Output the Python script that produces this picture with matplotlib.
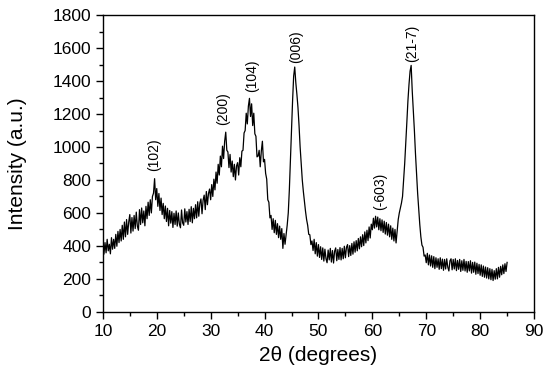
import numpy as np
import matplotlib
matplotlib.use("Agg")
import matplotlib.pyplot as plt
from matplotlib.ticker import MultipleLocator

plt.rcParams['font.family'] = ['Liberation Sans', 'DejaVu Sans']

# XRD pattern, sampled every 0.2 degrees from 10 to 85 (2-theta)
intensity = [
    455, 350, 420, 358, 440, 370, 410, 352, 450, 380,
    440, 385, 470, 398, 488, 420, 500, 430, 525, 440,
    545, 455, 560, 470, 545, 590, 478, 572, 490, 585,
    505, 605, 520, 495, 620, 530, 630, 540, 612, 522,
    640, 565, 665, 585, 680, 600, 700, 720, 808, 680,
    748, 640, 718, 615, 690, 590, 658, 565, 642, 548,
    628, 522, 615, 538, 608, 512, 598, 530, 612, 520,
    600, 532, 510, 618, 540, 525, 625, 545, 608, 530,
    622, 548, 638, 540, 628, 565, 650, 570, 668, 580,
    660, 685, 595, 678, 708, 620, 730, 650, 718, 745,
    680, 772, 700, 805, 740, 848, 780, 895, 830, 945,
    880, 1005, 930, 1035, 1090, 980, 970, 875, 955, 848,
    915, 820, 895, 800, 885, 905, 830, 935, 880, 975,
    980, 1085, 1100, 1205, 1140, 1248, 1295, 1185, 1262, 1130,
    1205, 1080, 1065, 940, 945, 980, 880, 975, 1035, 910,
    925, 840, 805, 680, 665, 570, 585, 500, 565, 480,
    555, 470, 535, 450, 520, 440, 505, 385, 475, 410,
    470, 525, 600, 740, 920, 1100, 1280, 1430, 1485, 1390,
    1320, 1240, 1130, 1000, 900, 800, 730, 670, 610, 560,
    525, 470, 468, 408, 430, 372, 440, 352, 420, 338,
    408, 330, 395, 318, 388, 308, 380, 322, 298, 375,
    315, 385, 302, 372, 296, 368, 388, 310, 378, 318,
    390, 315, 385, 322, 398, 328, 392, 408, 335, 402,
    342, 415, 350, 425, 362, 432, 370, 445, 382, 455,
    395, 468, 402, 485, 418, 495, 432, 515, 448, 532,
    498, 568, 508, 580, 515, 575, 498, 565, 492, 558,
    482, 550, 472, 542, 465, 532, 455, 522, 440, 508,
    430, 500, 418, 490, 560, 600, 630, 660, 700, 800,
    900, 1020, 1150, 1280, 1380, 1460, 1495, 1340, 1220, 1100,
    960, 840, 720, 620, 530, 455, 405, 392, 338, 345,
    298, 355, 285, 345, 278, 340, 270, 335, 262, 328,
    270, 322, 258, 328, 262, 320, 252, 318, 260, 322,
    270, 248, 310, 322, 255, 318, 260, 322, 250, 312,
    258, 318, 245, 310, 252, 318, 248, 306, 240, 305,
    248, 310, 235, 300, 240, 302, 228, 295, 232, 288,
    222, 285, 215, 278, 210, 272, 205, 268, 200, 262,
    195, 258, 190, 250, 198, 262, 200, 270, 210, 276,
    225, 285, 232, 292, 245, 300,
]
two_theta = np.linspace(10, 85, len(intensity))

peak_labels = ["(102)", "(200)", "(104)", "(006)", "(-603)", "(21-7)"]
peak_x = [19.5, 32.3, 37.7, 45.8, 61.5, 67.4]
peak_y = [855, 1133, 1333, 1509, 615, 1515]

fig = plt.figure(figsize=(5.5, 3.78), dpi=100)
ax = fig.add_axes([0.187, 0.175, 0.784, 0.785])
ax.plot(two_theta, intensity, color='black', linewidth=0.9)

for lab, x, y in zip(peak_labels, peak_x, peak_y):
    ax.text(x, y, lab, rotation=90, ha='center', va='bottom', fontsize=10)

ax.set_xlim(10, 90)
ax.set_ylim(0, 1800)
ax.xaxis.set_major_locator(MultipleLocator(10))
ax.xaxis.set_minor_locator(MultipleLocator(5))
ax.yaxis.set_major_locator(MultipleLocator(200))
ax.yaxis.set_minor_locator(MultipleLocator(100))
ax.tick_params(which='major', direction='out', length=5, width=1, labelsize=12.5, top=False, right=False)
ax.tick_params(which='minor', direction='out', length=3, width=1, top=False, right=False)
for s in ax.spines.values():
    s.set_linewidth(1.0)

ax.set_xlabel('2θ (degrees)', fontsize=15)
ax.set_ylabel('Intensity (a.u.)', fontsize=15)
ax.xaxis.set_label_coords(0.5, -0.115)
ax.yaxis.set_label_coords(-0.176, 0.5)

fig.savefig('out.png', dpi=100)
